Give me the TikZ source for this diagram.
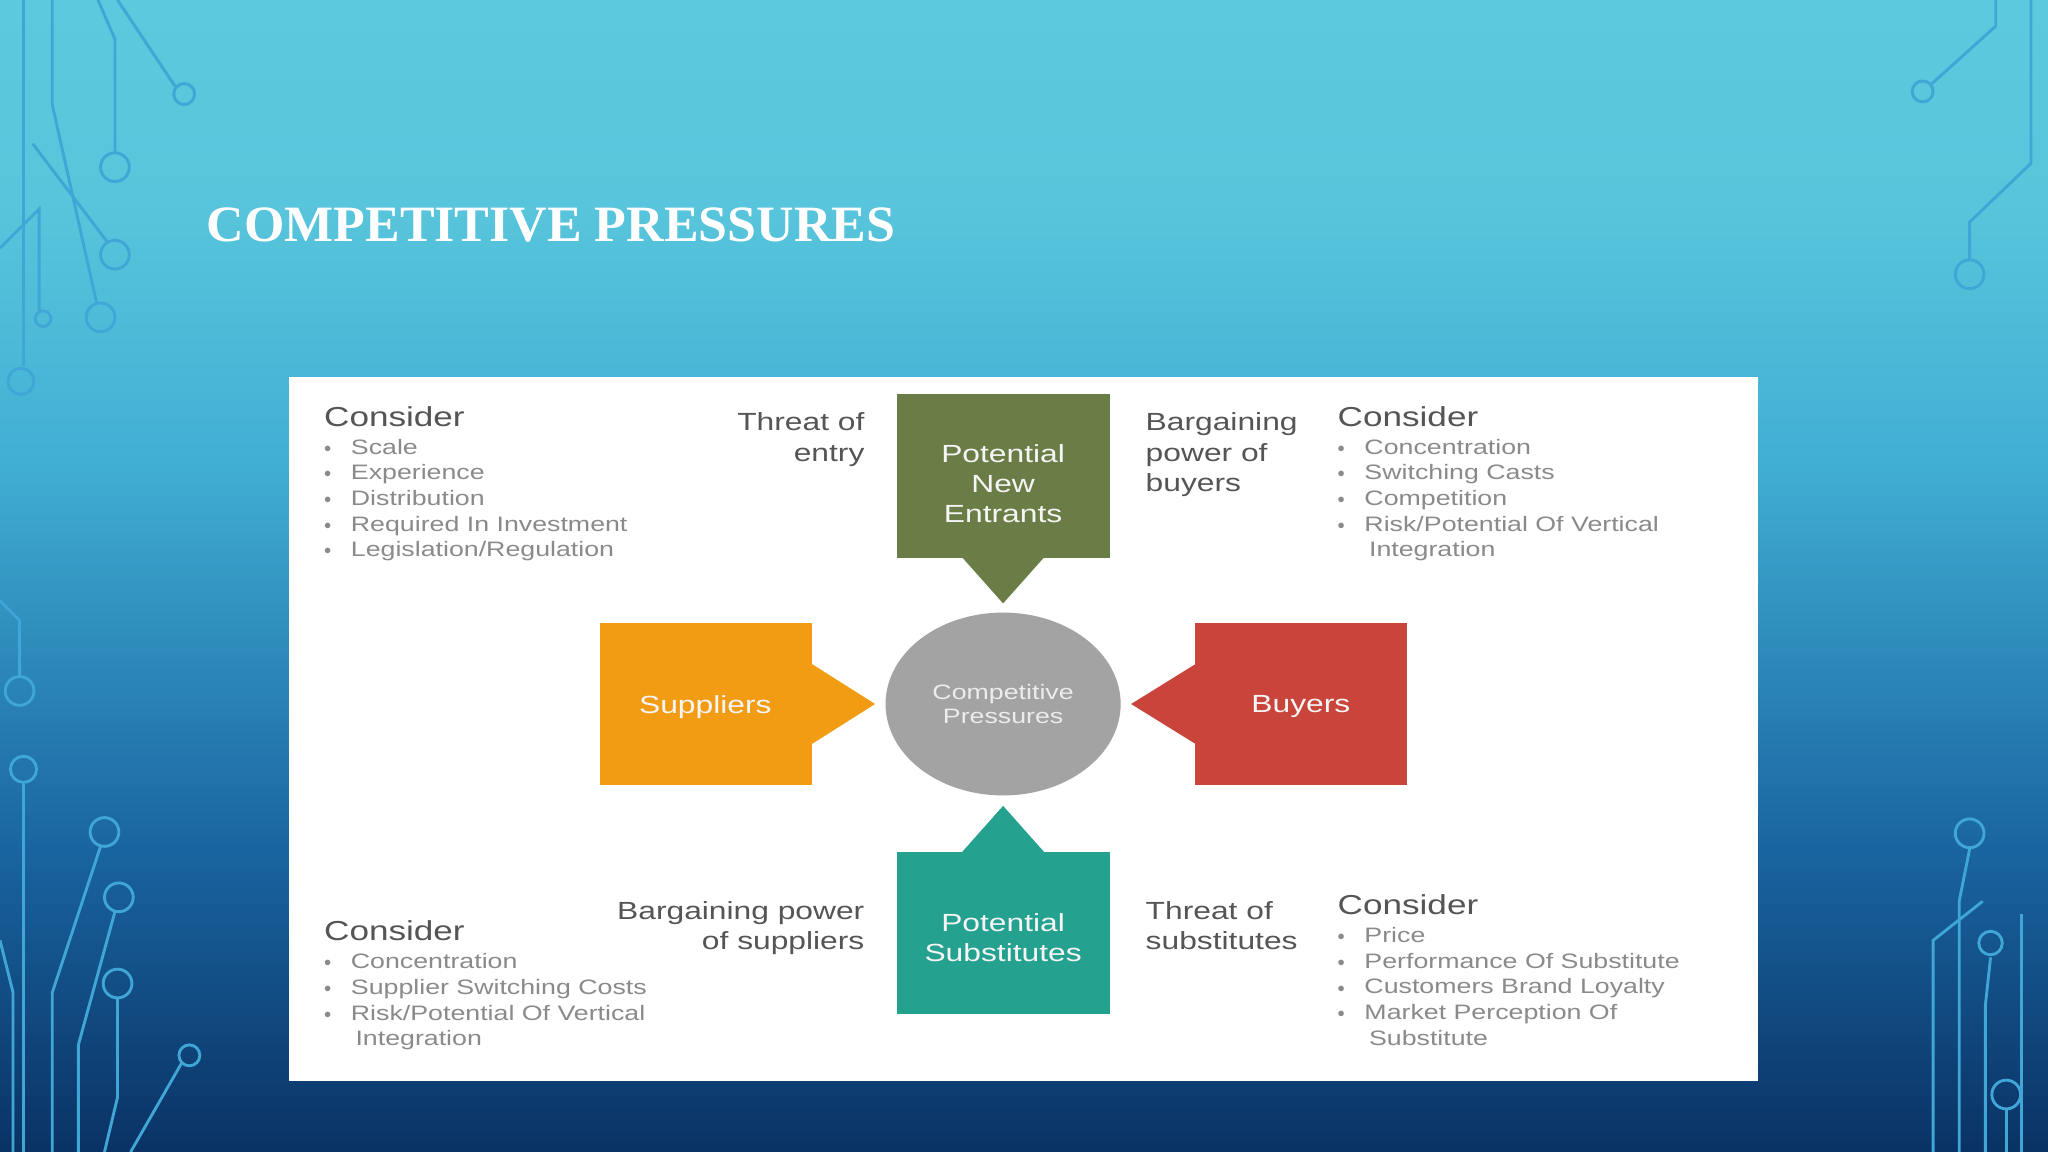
\documentclass[tikz,border=0pt]{standalone}
\usepackage{fontspec}
\setmainfont[FakeStretch=1.28]{Liberation Sans}
\newfontfamily\titlefont[FakeStretch=1.02]{Liberation Serif}
\usetikzlibrary{positioning}
\definecolor{circ}{HTML}{3FA6D6}
\definecolor{entrants}{HTML}{6B7D46}
\definecolor{suppliers}{HTML}{F29C14}
\definecolor{buyers}{HTML}{C9443A}
\definecolor{substitutes}{HTML}{24A18F}
\definecolor{core}{HTML}{A3A3A3}
\definecolor{txt}{HTML}{8A8A8A}
\definecolor{dark}{HTML}{555555}
\pgfdeclareverticalshading{slidebg}{100bp}{
  color(0bp)=(rgb,255:red,10;green,50;blue,100);
  color(25bp)=(rgb,255:red,10;green,50;blue,100);
  color(38bp)=(rgb,255:red,25;green,100;blue,160);
  color(55bp)=(rgb,255:red,65;green,175;blue,212);
  color(66bp)=(rgb,255:red,88;green,197;blue,220);
  color(75bp)=(rgb,255:red,92;green,201;blue,222);
  color(100bp)=(rgb,255:red,92;green,201;blue,222)}
\newcommand{\itm}{\raisebox{1.5pt}{\fontsize{11}{11}\selectfont$\bullet$}\hspace{15pt}}
\begin{document}
\begin{tikzpicture}[x=1pt,y=-1pt,
    trace/.style={circ, line width=2.2pt},
    pad/.style={circ, line width=2.2pt, fill=none},
    heading/.style={font=\fontsize{21}{23}\selectfont, text=dark, anchor=north west, inner sep=0pt},
    items/.style={font=\fontsize{16}{19.7}\selectfont, text=txt, anchor=north west, inner sep=0pt, align=left},
    force/.style={font=\fontsize{19}{23}\selectfont, text=dark, inner sep=0pt},
    boxtext/.style={font=\fontsize{19}{23}\selectfont, text=white!92!gray, align=center}
]
\useasboundingbox (0,0) rectangle (1568,882);
\shade[shading=slidebg] (0,0) rectangle (1568,882);

% circuit traces
\draw[trace] (18,0) -- (18,280); \draw[pad] (16,292) circle (10);
\draw[trace] (40,0) -- (40,80) -- (74,232); \draw[pad] (77,243) circle (11);
\draw[trace] (75,0) -- (88,30) -- (88,116); \draw[pad] (88,128) circle (11);
\draw[trace] (90,0) -- (134,66); \draw[pad] (141,72) circle (8);
\draw[trace] (25,110) -- (82,185); \draw[pad] (88,195) circle (11);
\draw[trace] (0,190) -- (30,160) -- (30,238); \draw[pad] (33,244) circle (6);
\draw[trace] (0,460) -- (15,475) -- (15,518); \draw[pad] (15,529) circle (11);
\draw[trace] (18,600) -- (18,882); \draw[pad] (18,589) circle (10);
\draw[trace] (0,720) -- (10,760) -- (10,882);
\draw[trace] (40,882) -- (40,760) -- (77,648); \draw[pad] (80,637) circle (11);
\draw[trace] (60,882) -- (60,800) -- (88,698); \draw[pad] (91,687) circle (11);
\draw[trace] (80,882) -- (90,840) -- (90,765); \draw[pad] (90,753) circle (11);
\draw[trace] (100,882) -- (139,814); \draw[pad] (145,808) circle (8);
\draw[trace] (1528,0) -- (1528,20) -- (1478,65); \draw[pad] (1472,70) circle (8);
\draw[trace] (1555,0) -- (1555,125) -- (1508,170) -- (1508,198); \draw[pad] (1508,210) circle (11);
\draw[trace] (1500,882) -- (1500,690) -- (1508,650); \draw[pad] (1508,638) circle (11);
\draw[trace] (1480,882) -- (1480,720) -- (1518,690);
\draw[trace] (1520,882) -- (1520,770) -- (1524,733); \draw[pad] (1524,722) circle (9);
\draw[trace] (1548,700) -- (1548,882);
\draw[trace] (1536,850) -- (1536,882); \draw[pad] (1536,838) circle (11);

% title
\node[anchor=west, text=white, font=\titlefont\bfseries\fontsize{39}{41}\selectfont, inner sep=0pt] (title) at (158,172) {COMPETITIVE PRESSURES};

% white panel
\fill[white] (221,289) rectangle (1346,828);

% forces
\fill[entrants] (687,302) rectangle (850,427);
\fill[entrants] (736,426) -- (800,426) -- (768,462) -- cycle;
\fill[suppliers] (459,477) rectangle (622,601);
\fill[suppliers] (621,508) -- (621,570) -- (670,539) -- cycle;
\fill[buyers] (915,477) rectangle (1077,601);
\fill[buyers] (916,508) -- (916,570) -- (866,539) -- cycle;
\fill[substitutes] (687,652) rectangle (850,776);
\fill[substitutes] (736,653) -- (800,653) -- (768,617) -- cycle;
\fill[core] (768,539) ellipse (90 and 70);

\node[boxtext] (entrants) at (768,370) {Potential\\New\\Entrants};
\node[boxtext] (suppliers) at (540,541) {Suppliers};
\node[boxtext] (buyers) at (996,541) {Buyers};
\node[boxtext] (substitutes) at (768,718) {Potential\\Substitutes};
\node[font=\fontsize{16}{19}\selectfont, text=white!85!gray, align=center] (core) at (768,539) {Competitive\\Pressures};

% force labels
\node[force, align=right, anchor=north east] (entry) at (662,316) {Threat of\\entry};
\node[force, align=left, anchor=north west] (buyerpower) at (877,316) {Bargaining\\power of\\buyers};
\node[force, align=right, anchor=north east] (supplierpower) at (662,690) {Bargaining power\\of suppliers};
\node[force, align=left, anchor=north west] (subthreat) at (877,690) {Threat of\\substitutes};

% consider lists
\node[heading] (c1) at (248,311) {Consider};
\node[items, below=9pt of c1.south west, anchor=north west] {\itm Scale\\\itm Experience\\\itm Distribution\\\itm Required In Investment\\\itm Legislation/Regulation};
\node[heading] (c2) at (1024,311) {Consider};
\node[items, below=9pt of c2.south west, anchor=north west] {\itm Concentration\\\itm Switching Casts\\\itm Competition\\\itm Risk/Potential Of Vertical\\\hspace{24pt}Integration};
\node[heading] (c3) at (248,705) {Consider};
\node[items, below=9pt of c3.south west, anchor=north west] {\itm Concentration\\\itm Supplier Switching Costs\\\itm Risk/Potential Of Vertical\\\hspace{24pt}Integration};
\node[heading] (c4) at (1024,685) {Consider};
\node[items, below=9pt of c4.south west, anchor=north west] {\itm Price\\\itm Performance Of Substitute\\\itm Customers Brand Loyalty\\\itm Market Perception Of\\\hspace{24pt}Substitute};
\end{tikzpicture}
\end{document}
